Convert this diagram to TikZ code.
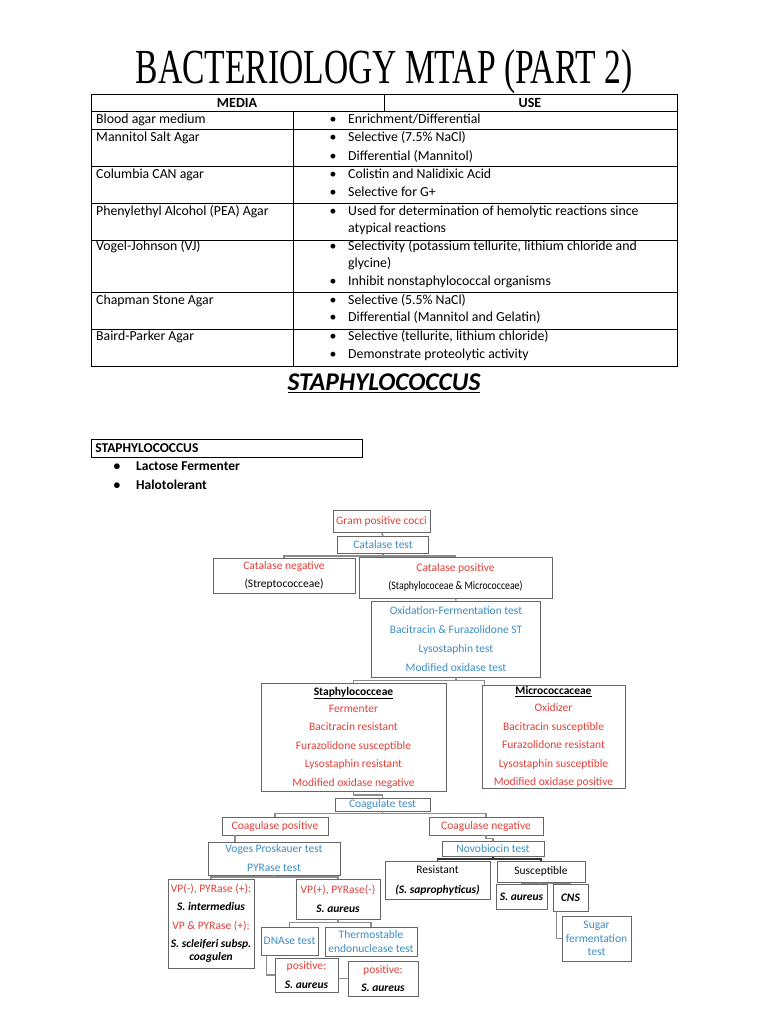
\documentclass[tikz,border=0pt]{standalone}
\usepackage{fontspec}
\setmainfont{Carlito}
\newfontfamily\titlefont{Liberation Serif}
\usepackage{graphicx}
\usetikzlibrary{positioning}
\definecolor{FlowRed}{HTML}{E0413A}
\definecolor{FlowBlue}{HTML}{3C8DC5}

\tikzset{
  tline/.style={draw=black, line width=0.8pt},
  hdr/.style={inner sep=0pt, font=\fontsize{14}{16}\selectfont\bfseries},
  rowtxt/.style={anchor=west, inner sep=0pt, text height=10pt, text depth=3pt, font=\fontsize{13.8}{16}\selectfont},
  bul/.style={inner sep=0pt, text height=10pt, text depth=3pt, font=\fontsize{13.8}{16}\selectfont},
  fbox/.style={draw=black!60, line width=0.8pt, fill=white, align=center, inner sep=0pt,
    font=\fontsize{11.5}{18.5}\selectfont},
  conn/.style={draw=black!45, line width=1.4pt},
}
\newcommand{\rd}[1]{\textcolor{FlowRed}{#1}}
\newcommand{\bl}[1]{\textcolor{FlowBlue}{#1}}
\newcommand{\spname}[1]{\textbf{\textit{#1}}}

\begin{document}
\begin{tikzpicture}[x=1pt,y=-1pt]
  \fill[white] (0,0) rectangle (768,1024);
  \useasboundingbox (0,0) rectangle (768,1024);

  % title
  \node[inner sep=0pt, font=\titlefont\fontsize{49}{49}\selectfont] (title) at (384,72)
    {\scalebox{0.685}[1]{BACTERIOLOGY MTAP (PART 2)}};

  % media table
  \draw[tline] (91,94) rectangle (677,366);
  \draw[tline] (384,94) -- (384,111);
  \draw[tline] (293,111) -- (293,366);
  \foreach \y in {111,129,166,203,240,292,329}
    \draw[tline] (91,\y) -- (677,\y);
  \node[hdr] (media) at (237,102.5) {MEDIA};
  \node[hdr] (use) at (530,102.5) {USE};
  \foreach \y/\t [count=\i] in {120/{Blood agar medium}, 138/{Mannitol Salt Agar},
      175/{Columbia CAN agar}, 212/{Phenylethyl Alcohol (PEA) Agar}, 247/{Vogel-Johnson (VJ)},
      301/{Chapman Stone Agar}, 337/{Baird-Parker Agar}}
    \node[rowtxt] (m\i) at (96,\y) {\t};
  \foreach \y/\t [count=\i] in {120/{Enrichment/Differential}, 138/{Selective (7.5\% NaCl)},
      157/{Differential (Mannitol)}, 175/{Colistin and Nalidixic Acid}, 193/{Selective for G+},
      212/{Used for determination of hemolytic reactions since},
      247/{Selectivity (potassium tellurite, lithium chloride and},
      282/{Inhibit nonstaphylococcal organisms}, 301/{Selective (5.5\% NaCl)},
      318/{Differential (Mannitol and Gelatin)}, 337/{Selective (tellurite, lithium chloride)},
      355/{Demonstrate proteolytic activity}}{
    \node[bul] (b\i) at (333,\y) {\textbullet};
    \node[rowtxt] (u\i) at (348,\y) {\t};
  }
  \node[rowtxt] (u6b) at (348,229) {atypical reactions};
  \node[rowtxt] (u7b) at (348,264) {glycine)};

  % heading and info box
  \node[inner sep=0pt, font=\fontsize{25.5}{26}\selectfont\bfseries\itshape] (heading) at (384,383)
    {\underline{STAPHYLOCOCCUS}};
  \node[draw, line width=0.8pt, anchor=north west, minimum height=18pt, text width=263pt,
    inner xsep=4pt, inner ysep=0pt, align=left, font=\fontsize{13.5}{15}\selectfont\bfseries]
    (staphbox) at (91,439) {STAPHYLOCOCCUS};
  \node[bul, font=\fontsize{13.5}{15}\selectfont\bfseries] (sb1) at (117,467) {\textbullet};
  \node[rowtxt, font=\fontsize{13.5}{15}\selectfont\bfseries] (st1) at (136,467) {Lactose Fermenter};
  \node[bul, font=\fontsize{13.5}{15}\selectfont\bfseries] (sb2) at (117,486) {\textbullet};
  \node[rowtxt, font=\fontsize{13.5}{15}\selectfont\bfseries] (st2) at (136,486) {Halotolerant};

  % flow chart
  \node[fbox, minimum width=97pt, minimum height=22pt] (gpc) at (381.5,521) {\rd{Gram positive cocci}};
  \node[fbox, minimum width=91pt, minimum height=17pt] (cattest) at (383,545) {\bl{Catalase test}};
  \node[fbox, minimum width=142pt, minimum height=35pt] (catneg) at (284,575.5)
    {\rd{Catalase negative}\\(Streptococceae)};
  \node[fbox, minimum width=193pt, minimum height=41pt] (catpos) at (455.5,577.5)
    {\rd{Catalase positive}\\\scalebox{0.85}[1]{(Staphylococeae \& Micrococceae)}};
  \node[fbox, minimum width=169pt, minimum height=76pt, font=\fontsize{11.5}{19}\selectfont] (oftest) at (456,639)
    {\bl{Oxidation-Fermentation test}\\\bl{Bacitracin \& Furazolidone ST}\\\bl{Lysostaphin test}\\\bl{Modified oxidase test}};
  \node[fbox, minimum width=185pt, minimum height=108pt] (staphyl) at (353.5,737.5)
    {\textbf{\underline{Staphylococceae}}\\[-1.5pt]\rd{Fermenter}\\\rd{Bacitracin resistant}\\\rd{Furazolidone susceptible}\\\rd{Lysostaphin resistant}\\\rd{Modified oxidase negative}};
  \node[fbox, minimum width=143pt, minimum height=103pt] (micro) at (553.5,737)
    {\textbf{\underline{Micrococcaceae}}\\[-1.5pt]\rd{Oxidizer}\\\rd{Bacitracin susceptible}\\\rd{Furazolidone resistant}\\\rd{Lysostaphin susceptible}\\\rd{Modified oxidase positive}};
  \node[fbox, minimum width=95pt, minimum height=13pt] (coagtest) at (382.5,804.5) {\bl{Coagulate test}};
  \node[fbox, minimum width=106pt, minimum height=18pt] (coagpos) at (275,826) {\rd{Coagulase positive}};
  \node[fbox, minimum width=114pt, minimum height=18pt] (coagneg) at (486,826) {\rd{Coagulase negative}};
  \node[fbox, minimum width=132pt, minimum height=33pt, font=\fontsize{11.5}{19}\selectfont] (vptest) at (274,858.5)
    {\bl{Voges Proskauer test}\\\bl{PYRase test}};
  \node[fbox, minimum width=86pt, minimum height=89pt] (vpneg) at (211,923.5)
    {\rd{VP(-), PYRase (+):}\\\spname{S. intermedius}\\\rd{VP \& PYRase (+):}\\\spname{S. scleiferi subsp.}\\[-5.5pt]\spname{coagulen}};
  \node[fbox, minimum width=84pt, minimum height=40pt] (vppos) at (338,899)
    {\rd{VP(+), PYRase(-)}\\\spname{S. aureus}};
  \node[fbox, minimum width=57pt, minimum height=28pt] (dnase) at (289.5,941) {\bl{DNAse test}};
  \node[fbox, minimum width=92pt, minimum height=29pt, font=\fontsize{11.5}{14}\selectfont] (thermo) at (371,941.5)
    {\bl{Thermostable}\\\bl{endonuclease test}};
  \node[fbox, minimum width=63pt, minimum height=34pt] (dnapos) at (306.5,975)
    {\rd{positive:}\\\spname{S. aureus}};
  \node[fbox, minimum width=70pt, minimum height=35pt] (thermopos) at (383,978.5)
    {\rd{positive:}\\\spname{S. aureus}};
  \node[fbox, minimum width=102pt, minimum height=15pt] (novo) at (493,849) {\bl{Novobiocin test}};
  \node[fbox, minimum width=105pt, minimum height=38pt, font=\fontsize{11.5}{20}\selectfont] (resist) at (437.5,880)
    {Resistant\\\spname{(S. saprophyticus)}};
  \node[fbox, minimum width=88pt, minimum height=21pt] (suscep) at (541,871.5) {Susceptible};
  \node[fbox, minimum width=51pt, minimum height=25pt] (saureus) at (521.5,896.5) {\spname{S. aureus}};
  \node[fbox, minimum width=35pt, minimum height=27pt] (cns) at (570.5,897.5) {\spname{CNS}};
  \node[fbox, minimum width=69pt, minimum height=45pt, font=\fontsize{11.5}{13.5}\selectfont] (sugar) at (596.5,938.5)
    {\bl{Sugar}\\\bl{fermentation}\\\bl{test}};

  % connectors
  \draw[conn] (gpc.south) -- (cattest.north);
  \draw[conn] (cattest.south) -- ++(0,2) -| (catneg.north);
  \draw[conn] (cattest.south) -- ++(0,2) -| (catpos.north);
  \draw[conn] (catpos.south) -- (oftest.north);
  \draw[conn] (oftest.south) -- ++(0,3) -| (staphyl.north);
  \draw[conn] (oftest.south) -- ++(0,3) -| ([xshift=3pt]micro.north west);
  \draw[conn] (staphyl.south) -- ++(0,3) -| (coagtest.north);
  \draw[conn] (coagtest.south) -- ++(0,2) -| (coagpos.north);
  \draw[conn] (coagtest.south) -- ++(0,2) -| (coagneg.north);
  \draw[conn] ([xshift=-40pt]coagpos.south) -- ([xshift=-40pt]coagpos.south |- vptest.north);
  \draw[conn] (vptest.south) -- ++(0,1.5) -| (vpneg.north);
  \draw[conn] (vptest.south) -- ++(0,1.5) -| (vppos.north);
  \draw[conn] (vppos.south) -- ++(0,3) -| (dnase.north);
  \draw[conn] (vppos.south) -- ++(0,3) -| (thermo.north);
  \draw[conn] ([xshift=6pt]dnase.south west) |- (dnapos.west);
  \draw[conn] (dnapos.east |- thermopos.west) -- (thermopos.west);
  \draw[conn] (coagneg.south) -- ++(0,3) -| (novo.north);
  \draw[conn, draw=black!80] (novo.south) -- ++(0,2) -| (resist.north);
  \draw[conn, draw=black!80] (novo.south) -- ++(0,2) -| (suscep.north);
  \draw[conn] (suscep.south) -- ++(0,1) -| (saureus.north);
  \draw[conn] (suscep.south) -- ++(0,1) -| (cns.north);
  \draw[conn] ([xshift=4pt]cns.south west) |- (sugar.west);
\end{tikzpicture}
\end{document}
